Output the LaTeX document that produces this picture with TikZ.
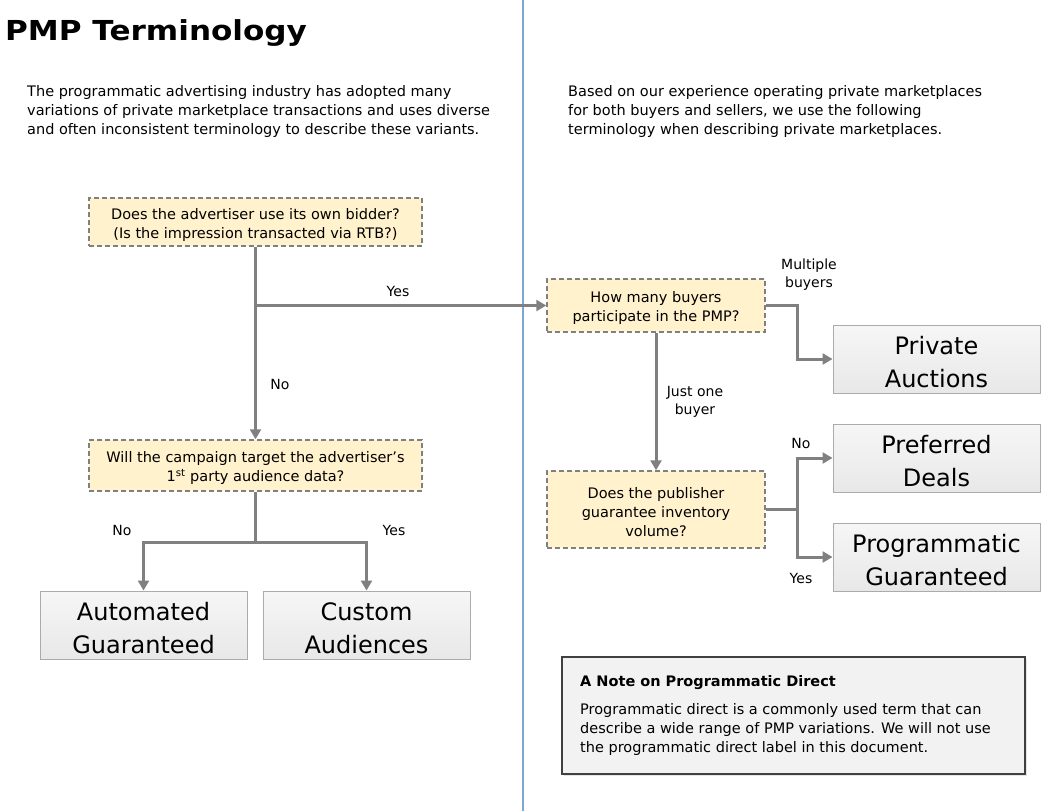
\documentclass[tikz,border=0pt]{standalone}
\usepackage{fontspec}
\setmainfont{DejaVu Sans}
\newfontfamily\titlefont{DejaVu Sans}[FakeStretch=1.13]
\usetikzlibrary{arrows.meta,shadows}
\definecolor{qfill}{HTML}{FFF2CC}
\definecolor{qdraw}{HTML}{808080}
\definecolor{arrgray}{HTML}{808080}
\definecolor{outtop}{HTML}{F6F6F6}
\definecolor{outbot}{HTML}{E8E8E8}
\definecolor{outdraw}{HTML}{ABABAB}
\definecolor{divider}{HTML}{7EA6D3}
\definecolor{notedraw}{HTML}{404040}
\definecolor{notefill}{HTML}{F2F2F2}
\newcommand{\qtop}{\rule{0pt}{16.5pt}}
\newcommand{\otop}{\rule{0pt}{23.5pt}}
\tikzset{
  qbox/.style={draw=qdraw, dash pattern=on 5pt off 3pt, line width=1.5pt, fill=qfill,
    align=center, inner sep=0pt, font=\fontsize{14.5}{19}\selectfont},
  outbox/.style={draw=outdraw, line width=1pt, top color=outtop, bottom color=outbot,
    minimum width=207pt, minimum height=68pt, align=center, inner sep=0pt,
    font=\fontsize{24}{33}\selectfont,
    drop shadow={shadow xshift=1.2pt, shadow yshift=-1.2pt, opacity=0.2}},
  arr/.style={draw=arrgray, line width=3pt, -{Triangle[length=10pt,width=11pt]}},
  conn/.style={draw=arrgray, line width=3pt},
  lab/.style={font=\fontsize{14}{18}\selectfont, align=center, inner sep=0pt},
  para/.style={font=\fontsize{14.5}{19}\selectfont, align=left, inner sep=0pt, anchor=north west},
}
\begin{document}
\begin{tikzpicture}[x=1pt,y=-1pt]
\useasboundingbox[fill=white] (0,0) rectangle (1049,811);
% divider
\draw[divider, line width=1.5pt] (523,0) -- (523,811);
% title
\node[anchor=base west, inner sep=0pt, font=\titlefont\bfseries\fontsize{27.5}{32}\selectfont] (title) at (5,40) {PMP Terminology};
% paragraphs
\node[para] (pl) at (27,85.5) {The programmatic advertising industry has adopted many\\variations of private marketplace transactions and uses diverse\\and often inconsistent terminology to describe these variants.};
\node[para] (pr) at (568,85.5) {Based on our experience operating private marketplaces\\for both buyers and sellers, we use the following\\terminology when describing private marketplaces.};
% question boxes
\node[qbox, minimum width=333pt, minimum height=48pt] (q1) at (255.5,222) {\qtop Does the advertiser use its own bidder?\\(Is the impression transacted via RTB?)};
\node[qbox, minimum width=333pt, minimum height=51pt] (q2) at (255.5,465.5) {\qtop Will the campaign target the advertiser’s\\1\textsuperscript{st} party audience data?};
\node[qbox, minimum width=218pt, minimum height=53pt] (q3) at (656,305.5) {\qtop How many buyers\\participate in the PMP?};
\node[qbox, minimum width=218pt, minimum height=77pt] (q4) at (656,509.5) {\qtop Does the publisher\\guarantee inventory\\volume?};
% outcome boxes
\node[outbox] (ag) at (143.5,625) {\otop Automated\\Guaranteed};
\node[outbox] (ca) at (366.5,625) {\otop Custom\\Audiences};
\node[outbox] (pa) at (936.5,359) {\otop Private\\Auctions};
\node[outbox] (pd) at (936.5,458) {\otop Preferred\\Deals};
\node[outbox] (pg) at (936.5,557) {\otop Programmatic\\Guaranteed};
% connectors
\coordinate (b1) at (255.5,305.5);
\draw[arr] (q1.south) -- (q2.north);
\draw[arr] (b1) -- (q3.west);
\coordinate (b2) at (255.5,542);
\draw[conn] (q2.south) -- (b2);
\draw[arr] (b2) -| (ag.north);
\draw[arr] (b2) -| (ca.north);
\coordinate (c3) at (797,305.5);
\draw[arr] (q3.east) -- (c3) |- (pa.west);
\draw[arr] (q3.south) -- (q4.north);
\coordinate (c4) at (797,509.5);
\draw[conn] (q4.east) -- (c4);
\draw[arr] (c4) |- (pd.west);
\draw[arr] (c4) |- (pg.west);
% labels
\node[lab] (lyes1) at (398,291) {Yes};
\node[lab] (lno1) at (280,384) {No};
\node[lab] (lno2) at (122,530) {No};
\node[lab] (lyes2) at (394,530) {Yes};
\node[lab] (lmult) at (809,275) {Multiple\\buyers};
\node[lab] (lone) at (695,402) {Just one\\buyer};
\node[lab] (lno3) at (801,443) {No};
\node[lab] (lyes3) at (801,578) {Yes};
% note
\node[draw=notedraw, line width=1.3pt, fill=notefill, minimum width=463pt, minimum height=117pt, inner sep=0pt,
  drop shadow={shadow xshift=1.5pt, shadow yshift=-1.5pt, opacity=0.2}] (note) at (793.5,715.5) {};
\node[anchor=base west, inner sep=0pt, font=\bfseries\fontsize{14.5}{19}\selectfont] (notetitle) at (580,686) {A Note on Programmatic Direct};
\node[para] (notebody) at (580,703) {Programmatic direct is a commonly used term that can\\describe a wide range of PMP variations. We will not use\\the programmatic direct label in this document.};
\end{tikzpicture}
\end{document}
